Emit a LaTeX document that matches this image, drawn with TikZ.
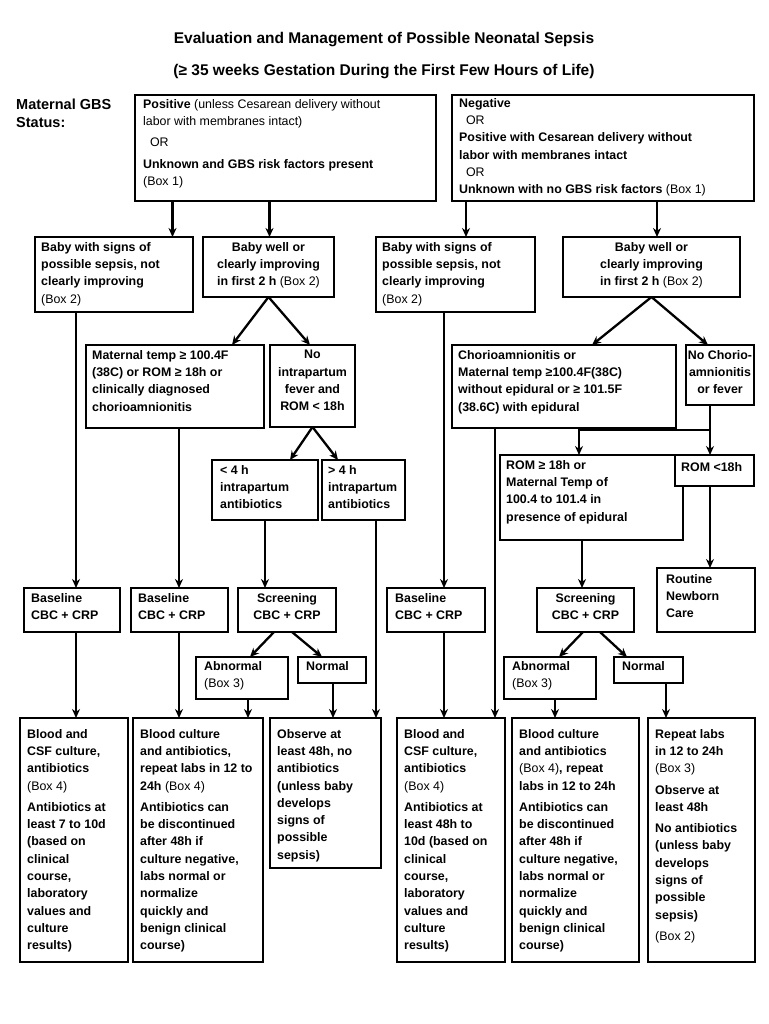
\documentclass[tikz,border=0pt]{standalone}
\usepackage{fontspec}
\setmainfont{Liberation Sans}
\usetikzlibrary{arrows.meta}
\begin{document}
\begin{tikzpicture}[x=1pt,y=-1pt,
  bx/.style={draw,line width=1.1pt,fill=white},
  tx/.style={anchor=north west,inner sep=0pt,align=left,font=\fontsize{12.4}{17.3}\selectfont\bfseries},
  txc/.style={anchor=north,inner sep=0pt,align=center,font=\fontsize{12.4}{17.3}\selectfont\bfseries},
  arr/.style={line width=2.3pt,-{Stealth[length=9pt,width=8pt]}},
  ln/.style={line width=2.3pt,line cap=rect}]
\useasboundingbox (0,0) rectangle (768,1024);
\newcommand\rg[1]{{\mdseries #1}}
\newcommand\bxx[5]{\path[bx] (#2,#3) rectangle (#4,#5); \coordinate (#1) at ({(#2+#4)/2},{(#3+#5)/2});}
% title
\node[font=\fontsize{15.5}{18}\selectfont\bfseries] (t1) at (384,40) {Evaluation and Management of Possible Neonatal Sepsis};
\node[font=\fontsize{15.5}{18}\selectfont\bfseries] (t2) at (384,72) {(≥ 35 weeks Gestation During the First Few Hours of Life)};
\node[tx,font=\fontsize{14.5}{18}\selectfont\bfseries] (gbs) at (16,99) {Maternal GBS\\Status:};
% boxes
\bxx{A}{135}{95}{436}{201}
\node[tx] (tA) at (143,99) {Positive \rg{(unless Cesarean delivery without}\\\rg{labor with membranes intact)}\\[4pt]\rg{\ \ OR}\\[4pt]Unknown and GBS risk factors present\\\rg{(Box 1)}};
\bxx{B}{452}{95}{754}{201}
\node[tx] (tB) at (459,98) {Negative\\\rg{\ \ OR}\\Positive with Cesarean delivery without\\labor with membranes intact\\\rg{\ \ OR}\\Unknown with no GBS risk factors \rg{(Box 1)}};
\bxx{C1}{35}{237}{193}{312}
\node[tx] (tC1) at (41,242) {Baby with signs of\\possible sepsis, not\\clearly improving\\\rg{(Box 2)}};
\bxx{C2}{203}{237}{334}{297}
\node[txc] (tC2) at (268.5,242) {Baby well or\\clearly improving\\in first 2 h \rg{(Box 2)}};
\bxx{C3}{376}{237}{535}{312}
\node[tx] (tC3) at (382,242) {Baby with signs of\\possible sepsis, not\\clearly improving\\\rg{(Box 2)}};
\bxx{C4}{563}{237}{740}{297}
\node[txc] (tC4) at (651.5,242) {Baby well or\\clearly improving\\in first 2 h \rg{(Box 2)}};
\bxx{D2}{86}{345}{264}{428}
\node[tx] (tD2) at (92,350) {Maternal temp ≥ 100.4F\\(38C) or ROM ≥ 18h or\\clinically diagnosed\\chorioamnionitis};
\bxx{D3}{270}{345}{355}{427}
\node[txc] (tD3) at (312.5,350) {No\\intrapartum\\fever and\\ROM < 18h};
\bxx{D4}{452}{345}{676}{428}
\node[tx] (tD4) at (458,350) {Chorioamnionitis or\\Maternal temp ≥100.4F(38C)\\without epidural or ≥ 101.5F\\(38.6C) with epidural};
\bxx{D5}{686}{345}{754}{405}
\node[txc] (tD5) at (720,350) {No Chorio-\\amnionitis\\or fever};
\bxx{E1}{212}{460}{318}{520}
\node[tx] (tE1) at (220,465) {< 4 h\\intrapartum\\antibiotics};
\bxx{E2}{322}{460}{405}{520}
\node[tx] (tE2) at (328,465) {> 4 h\\intrapartum\\antibiotics};
\bxx{E3}{500}{455}{683}{540}
\node[tx] (tE3) at (506,460) {ROM ≥ 18h or\\Maternal Temp of\\100.4 to 101.4 in\\presence of epidural};
\bxx{E4}{675}{455}{754}{486}
\node[tx] (tE4) at (681,462) {ROM <18h};
\bxx{F}{657}{568}{755}{632}
\node[tx] (tF) at (666,574) {Routine\\Newborn\\Care};
\bxx{G1}{24}{588}{120}{632}
\node[tx] (tG1) at (31,593) {Baseline\\CBC + CRP};
\bxx{G2}{131}{588}{228}{632}
\node[tx] (tG2) at (138,593) {Baseline\\CBC + CRP};
\bxx{G3}{238}{588}{336}{632}
\node[txc] (tG3) at (287,593) {Screening\\CBC + CRP};
\bxx{G4}{387}{588}{485}{632}
\node[tx] (tG4) at (395,593) {Baseline\\CBC + CRP};
\bxx{G5}{537}{588}{634}{632}
\node[txc] (tG5) at (585.5,593) {Screening\\CBC + CRP};
\bxx{H1}{196}{657}{288}{699}
\node[tx] (tH1) at (204,661) {Abnormal\\\rg{(Box 3)}};
\bxx{H2}{298}{657}{366}{683}
\node[tx] (tH2) at (306,661) {Normal};
\bxx{H3}{504}{657}{596}{699}
\node[tx] (tH3) at (512,661) {Abnormal\\\rg{(Box 3)}};
\bxx{H4}{614}{657}{683}{683}
\node[tx] (tH4) at (622,661) {Normal};
\bxx{I1}{20}{718}{128}{962}
\node[tx] (tI1) at (27,729) {Blood and\\CSF culture,\\antibiotics\\\rg{(Box 4)}\\[4pt]Antibiotics at\\least 7 to 10d\\(based on\\clinical\\course,\\laboratory\\values and\\culture\\results)};
\bxx{I2}{133}{718}{263}{962}
\node[tx] (tI2) at (140,729) {Blood culture\\and antibiotics,\\repeat labs in 12 to\\24h \rg{(Box 4)}\\[4pt]Antibiotics can\\be discontinued\\after 48h if\\culture negative,\\labs normal or\\normalize\\quickly and\\benign clinical\\course)};
\bxx{I3}{270}{718}{381}{868}
\node[tx] (tI3) at (277,729) {Observe at\\least 48h, no\\antibiotics\\(unless baby\\develops\\signs of\\possible\\sepsis)};
\bxx{I4}{397}{718}{505}{962}
\node[tx] (tI4) at (404,729) {Blood and\\CSF culture,\\antibiotics\\\rg{(Box 4)}\\[4pt]Antibiotics at\\least 48h to\\10d (based on\\clinical\\course,\\laboratory\\values and\\culture\\results)};
\bxx{I5}{512}{718}{639}{962}
\node[tx] (tI5) at (519,729) {Blood culture\\and antibiotics\\\rg{(Box 4)}, repeat\\labs in 12 to 24h\\[4pt]Antibiotics can\\be discontinued\\after 48h if\\culture negative,\\labs normal or\\normalize\\quickly and\\benign clinical\\course)};
\bxx{I6}{648}{718}{755}{962}
\node[tx] (tI6) at (655,729) {Repeat labs\\in 12 to 24h\\\rg{(Box 3)}\\[4pt]Observe at\\least 48h\\[4pt]No antibiotics\\(unless baby\\develops\\signs of\\possible\\sepsis)\\[4pt]\rg{(Box 2)}};
% connectors
\draw[arr] (A |- 0,201) ++(-113,0) coordinate (a1) -- (a1 |- 0,237);
\draw[arr] (A |- 0,201) ++(-16,0) coordinate (a2) -- (a2 |- 0,237);
\draw[arr] (B |- 0,201) ++(-137,0) coordinate (b1) -- (b1 |- 0,237);
\draw[arr] (B |- 0,201) ++(54,0) coordinate (b2) -- (b2 |- 0,237);
\draw[arr] (C2 |- 0,297) -- (232,345);
\draw[arr] (C2 |- 0,297) -- (310,345);
\draw[arr] (C4 |- 0,297) -- (592,345);
\draw[arr] (C4 |- 0,297) -- (708,345);
\draw[arr] (D3 |- 0,427) -- (290,460);
\draw[arr] (D3 |- 0,427) -- (338,460);
\draw[ln] (710,430) coordinate (d5) -- (579,430);
\draw[arr] (579,430) -- (579,455);
\draw[arr] (710,405) -- (710,455);
\draw[arr] (710,486) -- (710,568);
\draw[arr] (76,312) -- (76,588);
\draw[arr] (179,428) -- (179,588);
\draw[arr] (265,520) -- (265,588);
\draw[arr] (444,312) -- (444,588);
\draw[arr] (582,540) -- (582,588);
\draw[arr] (274,632) -- (250,657);
\draw[arr] (292,632) -- (322,657);
\draw[arr] (583,632) -- (559,657);
\draw[arr] (600,632) -- (627,657);
\draw[arr] (76,632) -- (76,718);
\draw[arr] (179,632) -- (179,718);
\draw[arr] (248,699) -- (248,718);
\draw[arr] (333,683) -- (333,718);
\draw[arr] (376,520) -- (376,718);
\draw[arr] (444,632) -- (444,718);
\draw[arr] (495,428) -- (495,718);
\draw[arr] (555,699) -- (555,718);
\draw[arr] (666,683) -- (666,718);
\end{tikzpicture}
\end{document}
